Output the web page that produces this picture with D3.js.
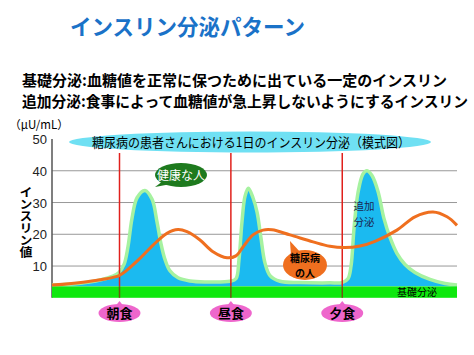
<!DOCTYPE html>
<html>
<head>
<meta charset="utf-8">
<script src="https://cdn.jsdelivr.net/npm/d3@7"></script>
<style>
  body { margin: 0; background: #fff; }
  svg { display: block; }
  text { font-family: "Noto Sans CJK JP", "Liberation Sans", sans-serif; }
</style>
</head>
<body>
<div id="chart"></div>
<script>
// time of day (h, schematic) and insulin level (μU/mL)
const healthyTime  = [0, 1.66, 2.84, 3.61, 3.97, 4.27, 4.5, 4.74, 5.04, 5.51, 5.93, 6.22, 6.46, 6.7, 6.99, 7.47, 8.18, 9.07, 10.55,
                      10.9, 11.08, 11.26, 11.44, 11.64, 11.91, 12.15, 12.38, 12.62, 12.92, 13.51, 14.7, 16.47, 17.19,
                      17.54, 17.72, 17.9, 18.13, 18.43, 18.67, 18.96, 19.32, 19.67, 20.03, 20.44, 20.92, 21.51, 22.4, 23.29, 24]
const healthyValue = [4.0, 4.6, 5.6, 6.8, 8.0, 10.5, 16, 25, 31.5, 33.8, 31, 24, 17, 12, 8.5, 6.3, 5.3, 5.0, 5.2,
                      6.0, 12, 24, 32, 34.5, 31.5, 27, 19, 11, 7, 5.2, 4.8, 4.7, 4.8,
                      6, 10, 22, 33, 39, 40, 38.5, 33.5, 25, 19, 14, 10.5, 8, 5.8, 4.5, 4.0]

const diabeticTime  = [0, 1.96, 3.97, 4.44, 5.21, 5.99, 6.81, 7.47, 8.0, 8.77, 9.54, 10.37, 10.9, 11.32, 11.91, 12.5,
                       13.04, 14.1, 15.47, 16.47, 17.36, 18.25, 19.14, 20.44, 21.51, 22.58, 23.41, 24]
const diabeticValue = [4.0, 5.0, 7.0, 8.7, 12.4, 16.6, 20.3, 21.5, 20.8, 18.2, 14.5, 12.6, 13.2, 16, 19.8, 21.3,
                       21.4, 19.8, 17.6, 16.2, 15.8, 16.3, 17.8, 21.3, 25.5, 27, 25.5, 22.8]

const basalLevel = 3.6
const meals = ['朝食', '昼食', '夕食']
const mealTimes = [4.0, 10.6, 17.2]
const yTicks = [10, 20, 30, 40, 50]
const gridTicks = [10, 20, 30, 40]

const width = 474
const height = 355

const svg = d3.select('#chart').append('svg')
    .attr('width', width)
    .attr('height', height)

const x = d3.scaleLinear().domain([0, 24]).range([52, 457])
const y = d3.scaleLinear().domain([0, 50]).range([297.8, 139])

// Title and description
svg.append('text')
    .attr('x', 70).attr('y', 35)
    .attr('textLength', 235).attr('lengthAdjust', 'spacingAndGlyphs')
    .style('font-size', '22px').style('font-weight', 'bold')
    .style('fill', '#1a72c8')
    .text('インスリン分泌パターン')

svg.append('text')
    .attr('x', 22).attr('y', 86)
    .attr('textLength', 425).attr('lengthAdjust', 'spacingAndGlyphs')
    .style('font-size', '15px').style('font-weight', 'bold')
    .text('基礎分泌:血糖値を正常に保つために出ている一定のインスリン')

svg.append('text')
    .attr('x', 22).attr('y', 107)
    .attr('textLength', 446).attr('lengthAdjust', 'spacingAndGlyphs')
    .style('font-size', '15px').style('font-weight', 'bold')
    .text('追加分泌:食事によって血糖値が急上昇しないようにするインスリン')

// Gridlines
svg.selectAll('.grid')
    .data(gridTicks)
    .enter().append('line')
    .attr('class', 'grid')
    .attr('x1', x(0)).attr('x2', x(24))
    .attr('y1', d => y(d)).attr('y2', d => y(d))
    .style('stroke', '#999').style('stroke-width', 1)

// Y axis
svg.append('line')
    .attr('x1', x(0)).attr('x2', x(0))
    .attr('y1', y(50)).attr('y2', y(0))
    .style('stroke', '#555').style('stroke-width', 1.5)

svg.selectAll('.ytick')
    .data(yTicks)
    .enter().append('text')
    .attr('class', 'ytick')
    .attr('x', 47).attr('y', d => y(d) + 5)
    .attr('text-anchor', 'end')
    .style('font-family', '"Liberation Sans", Arial, sans-serif')
    .style('font-size', '13px')
    .style('fill', '#222')
    .text(d => d)

svg.append('text')
    .attr('x', 39).attr('y', 129)
    .attr('text-anchor', 'middle')
    .style('font-size', '11.5px')
    .text('（μU/mL）')

// vertical axis title, written top to bottom
svg.append('text')
    .attr('x', 26).attr('y', 186)
    .style('writing-mode', 'vertical-rl')
    .style('font-size', '13px').style('font-weight', 'bold')
    .attr('textLength', 72).attr('lengthAdjust', 'spacingAndGlyphs')
    .text('インスリン値')

// Healthy person: bolus secretion area
const healthy = healthyTime.map((t, i) => ({t, v: healthyValue[i]}))
const diabetic = diabeticTime.map((t, i) => ({t, v: diabeticValue[i]}))

const area = d3.area()
    .x(d => x(d.t))
    .y0(y(basalLevel))
    .y1(d => y(d.v))
    .curve(d3.curveCatmullRom.alpha(0.5))

const line = d3.line()
    .x(d => x(d.t))
    .y(d => y(d.v))
    .curve(d3.curveCatmullRom.alpha(0.5))

svg.append('path')
    .datum(healthy)
    .attr('d', area)
    .style('fill', '#1bbaf0')

svg.append('path')
    .datum(healthy)
    .attr('d', line)
    .style('fill', 'none')
    .style('stroke', '#a6f2a0')
    .style('stroke-width', 3.5)

// Basal secretion band
svg.append('rect')
    .attr('x', x(0)).attr('y', y(basalLevel))
    .attr('width', x(24) - x(0)).attr('height', y(0) - y(basalLevel))
    .style('fill', '#0ee80e')

svg.append('text')
    .attr('x', 417).attr('y', 296)
    .attr('text-anchor', 'middle')
    .style('font-size', '10px')
    .text('基礎分泌')

// Meal lines
svg.selectAll('.meal-line')
    .data(mealTimes)
    .enter().append('line')
    .attr('class', 'meal-line')
    .attr('x1', d => x(d)).attr('x2', d => x(d))
    .attr('y1', 153).attr('y2', y(basalLevel))
    .style('stroke', '#e0201c').style('stroke-width', 1.5)

svg.selectAll('.meal-line-band')
    .data(mealTimes)
    .enter().append('line')
    .attr('class', 'meal-line-band')
    .attr('x1', d => x(d)).attr('x2', d => x(d))
    .attr('y1', y(basalLevel)).attr('y2', y(0))
    .style('stroke', '#6e5510').style('stroke-width', 1.5)

// Diabetic curve
svg.append('path')
    .datum(diabetic)
    .attr('d', line)
    .style('fill', 'none')
    .style('stroke', '#ef6f1f')
    .style('stroke-width', 3)

// Banner
svg.append('ellipse')
    .attr('cx', 250).attr('cy', 142)
    .attr('rx', 181).attr('ry', 10.5)
    .style('fill', '#6fe0f3')

svg.append('text')
    .attr('x', 92).attr('y', 147)
    .attr('textLength', 318).attr('lengthAdjust', 'spacingAndGlyphs')
    .style('font-size', '13px')
    .text('糖尿病の患者さんにおける1日のインスリン分泌（模式図）')

// Meal labels
const mealGroups = svg.selectAll('.meal')
    .data(meals)
    .enter().append('g')
    .attr('class', 'meal')
    .attr('transform', (d, i) => `translate(${x(mealTimes[i])},313)`)

mealGroups.append('path')
    .attr('d', 'M-4,-7 L0,-12 L4,-7 Z')
    .style('fill', '#ee66cc')

mealGroups.append('ellipse')
    .attr('rx', 21).attr('ry', 9)
    .style('fill', '#ee66cc')

mealGroups.append('text')
    .attr('y', 5)
    .attr('text-anchor', 'middle')
    .style('font-size', '13px').style('font-weight', 'bold')
    .text(d => d)

// Callout: healthy person
const healthyCallout = svg.append('g').attr('transform', 'translate(181,175)')
healthyCallout.append('path')
    .attr('d', 'M-18,6 L-26,12 L-10,9 Z')
    .style('fill', '#1e7a1e')
healthyCallout.append('ellipse')
    .attr('rx', 26).attr('ry', 12)
    .style('fill', '#1e7a1e')
healthyCallout.append('text')
    .attr('y', 4.5)
    .attr('text-anchor', 'middle')
    .style('font-size', '12px').style('fill', '#fff')
    .text('健康な人')

// Callout: diabetic person
const diabeticCallout = svg.append('g').attr('transform', 'translate(305,265)')
diabeticCallout.append('path')
    .attr('d', 'M-14,-9 L-15,-24 L-4,-12 Z')
    .style('fill', '#ef6f1f')
diabeticCallout.append('ellipse')
    .attr('rx', 22).attr('ry', 15)
    .style('fill', '#ef6f1f')
const diabeticText = diabeticCallout.append('text')
    .attr('text-anchor', 'middle')
    .style('font-size', '10px').style('font-weight', 'bold')
diabeticText.append('tspan').attr('x', 0).attr('y', -3).text('糖尿病')
diabeticText.append('tspan').attr('x', 0).attr('y', 11.5).text('の人')

// Bolus label
const bolusText = svg.append('text')
    .attr('text-anchor', 'middle')
    .style('font-size', '10.5px').style('fill', '#1a2850')
bolusText.append('tspan').attr('x', 364).attr('y', 210).text('追加')
bolusText.append('tspan').attr('x', 364).attr('y', 225.5).text('分泌')
</script>
</body>
</html>
